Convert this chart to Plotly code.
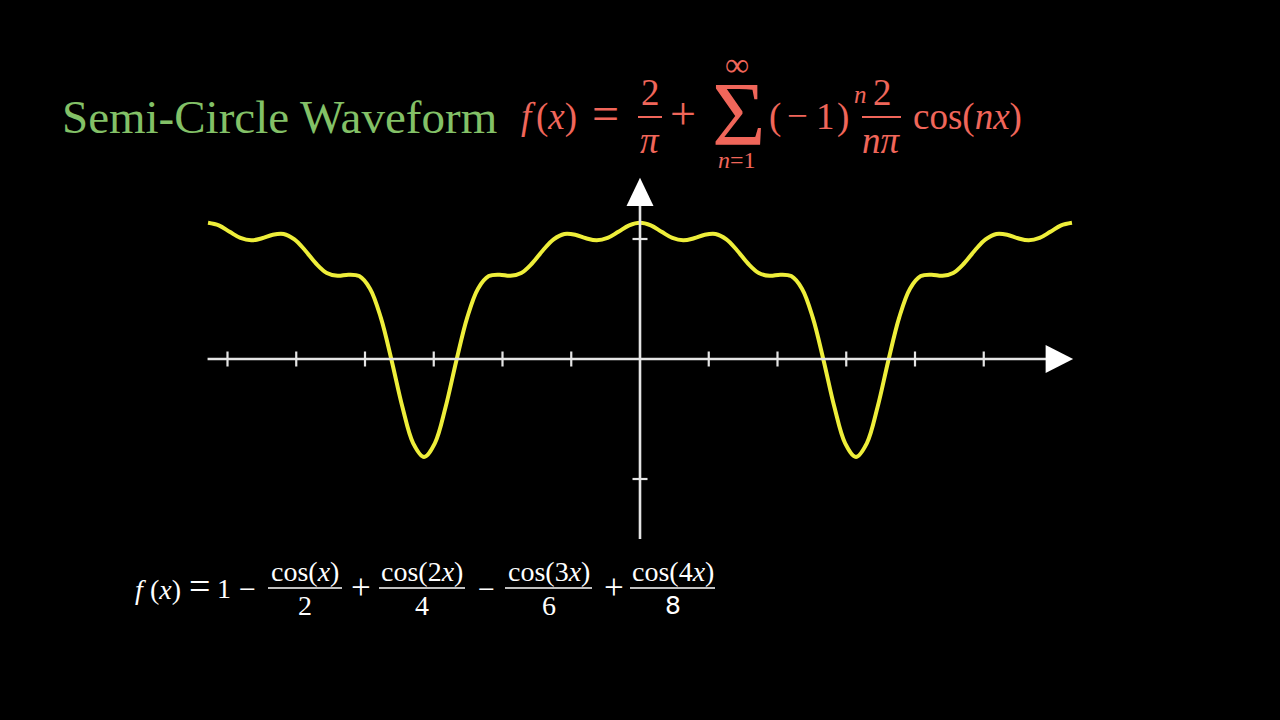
import math
import plotly.graph_objects as go

# ---------------- data ----------------
# sample positions: multiples of pi/20 from -2pi to 2pi
x_step_count = list(range(-40, 41))
x_vals = [k * math.pi / 20 for k in x_step_count]
# curve values (one value per sample position)
y_vals = [
    1.135, 1.113, 1.060, 1.009, 0.989, 1.006, 1.036, 1.042, 0.997, 0.904,
    0.796, 0.717, 0.693, 0.703, 0.691, 0.586, 0.345, -0.012, -0.400, -0.703,
    -0.817,
    -0.703, -0.400, -0.012, 0.345, 0.586, 0.691, 0.703, 0.693, 0.717, 0.796,
    0.904, 0.997, 1.042, 1.036, 1.006, 0.989, 1.009, 1.060, 1.113,
    1.135,
    1.113, 1.060, 1.009, 0.989, 1.006, 1.036, 1.042, 0.997, 0.904, 0.796,
    0.717, 0.693, 0.703, 0.691, 0.586, 0.345, -0.012, -0.400, -0.703,
    -0.817,
    -0.703, -0.400, -0.012, 0.345, 0.586, 0.691, 0.703, 0.693, 0.717, 0.796,
    0.904, 0.997, 1.042, 1.036, 1.006, 0.989, 1.009, 1.060, 1.113, 1.135,
]
x_ticks = [-6, -5, -4, -3, -2, -1, 1, 2, 3, 4, 5]
y_ticks = [-1, 1]

# ---------------- geometry / style ----------------
W, H = 1280, 720
OX, OY = 640, 359          # origin in pixels
UX, UY = 68.75, 120.0      # pixels per unit
X_RANGE = [-OX / UX, (W - OX) / UX]
Y_RANGE = [-(H - OY) / UY, OY / UY]

AXIS_COLOR = "#E4E4E4"
CURVE_COLOR = "#EEEE3A"
GREEN = "#83C167"
RED = "#F0665A"
WHITE = "#FFFFFF"
SERIF = "Liberation Serif"

fig = go.Figure()
fig.add_trace(go.Scatter(
    x=x_vals, y=y_vals, mode="lines",
    line=dict(color=CURVE_COLOR, width=4, shape="spline", smoothing=1.0),
    hoverinfo="skip", showlegend=False,
))

shapes = []
# axes
x_axis_left, x_arrow_base, x_arrow_tip = -6.29, 5.90, 6.30
y_axis_bottom, y_arrow_base, y_arrow_tip = -1.50, 1.275, 1.51
shapes.append(dict(type="line", xref="x", yref="y", x0=x_axis_left, x1=x_arrow_base + 0.05,
                   y0=0, y1=0, line=dict(color=AXIS_COLOR, width=2.6)))
shapes.append(dict(type="line", xref="x", yref="y", x0=0, x1=0, y0=y_axis_bottom,
                   y1=y_arrow_base + 0.03, line=dict(color=AXIS_COLOR, width=2.6)))
# arrowheads
ah = 14 / UY
shapes.append(dict(type="path", xref="x", yref="y",
                   path=f"M {x_arrow_base},{-ah} L {x_arrow_tip},0 L {x_arrow_base},{ah} Z",
                   fillcolor=WHITE, line=dict(color=WHITE, width=0)))
aw = 13.5 / UX
shapes.append(dict(type="path", xref="x", yref="y",
                   path=f"M {-aw},{y_arrow_base} L 0,{y_arrow_tip} L {aw},{y_arrow_base} Z",
                   fillcolor=WHITE, line=dict(color=WHITE, width=0)))
# ticks
tl_y = 7.5 / UY
for t in x_ticks:
    shapes.append(dict(type="line", xref="x", yref="y", x0=t, x1=t, y0=-tl_y, y1=tl_y,
                       line=dict(color=AXIS_COLOR, width=2.2)))
tl_x = 7.5 / UX
for t in y_ticks:
    shapes.append(dict(type="line", xref="x", yref="y", x0=-tl_x, x1=tl_x, y0=t, y1=t,
                       line=dict(color=AXIS_COLOR, width=2.2)))

annotations = []


def ann(text, px, py, size, color, family=SERIF, xanchor="center"):
    annotations.append(dict(
        text=text, x=px / W, y=1 - py / H, xref="paper", yref="paper",
        xanchor=xanchor, yanchor="middle", showarrow=False,
        font=dict(family=family, size=size, color=color),
    ))


def bar(x0, x1, py, color, width=2):
    shapes.append(dict(type="line", xref="paper", yref="paper",
                       x0=x0 / W, x1=x1 / W, y0=1 - py / H, y1=1 - py / H,
                       line=dict(color=color, width=width)))


# title
ann("Semi-Circle Waveform", 60, 117, 47, GREEN, xanchor="left")

# red formula
FS = 37
ann("<i>f</i>", 528, 117, FS, RED)
ann("(<i>x</i>)", 556, 117, FS, RED)
ann("=", 605, 113, 48, RED)
ann("2", 650, 93, FS, RED)
bar(638, 662, 117, RED, 2)
ann("<i>π</i>", 650, 141, FS, RED)
ann("+", 683, 113, 46, RED)
ann("Σ", 739, 114, 92, RED)
ann("∞", 737, 64, 34, RED)
ann("<i>n</i>=1", 737, 160, 24, RED)
ann("(", 775, 117, FS, RED)
ann("−", 797, 116, FS, RED)
ann("1", 825, 117, FS, RED)
ann(")", 843, 117, FS, RED)
ann("<i>n</i>", 860, 95, 25, RED)
ann("2", 882, 93, FS, RED)
bar(862, 901, 117, RED, 2)
ann("<i>nπ</i>", 881, 141, FS, RED)
ann("cos(<i>nx</i>)", 967, 117, FS, RED)

# bottom formula
BS = 28
ann("<i>f</i>", 140, 589, BS, WHITE)
ann("(<i>x</i>)", 165, 589, BS, WHITE)
ann("=", 199, 586, 38, WHITE)
ann("1", 223.5, 588, BS, WHITE)
ann("−", 247, 588, 30, WHITE)
fracs = [
    ("cos(<i>x</i>)", "2", 268, 342, SERIF),
    ("cos(2<i>x</i>)", "4", 379, 465, SERIF),
    ("cos(3<i>x</i>)", "6", 505, 592, SERIF),
    ("cos(4<i>x</i>)", "8", 630, 715, "DejaVu Sans"),
]
for num, den, b0, b1, dfam in fracs:
    c = (b0 + b1) / 2
    ann(num, c, 571, BS, WHITE)
    bar(b0, b1, 588, WHITE, 1.6)
    ann(den, c, 605, BS if dfam == SERIF else 25, WHITE, family=dfam)
ann("+", 361, 587, 35, WHITE)
ann("−", 486, 588, 30, WHITE)
ann("+", 614, 587, 35, WHITE)

fig.update_layout(
    width=W, height=H,
    margin=dict(l=0, r=0, t=0, b=0),
    paper_bgcolor="#000000", plot_bgcolor="#000000",
    xaxis=dict(range=X_RANGE, visible=False, fixedrange=True),
    yaxis=dict(range=Y_RANGE, visible=False, fixedrange=True),
    shapes=shapes, annotations=annotations,
    showlegend=False,
)

fig.write_html(
    "out.html",
    config={"displayModeBar": False},
    post_script="document.body.style.margin='0';document.body.style.background='#000000';",
)
